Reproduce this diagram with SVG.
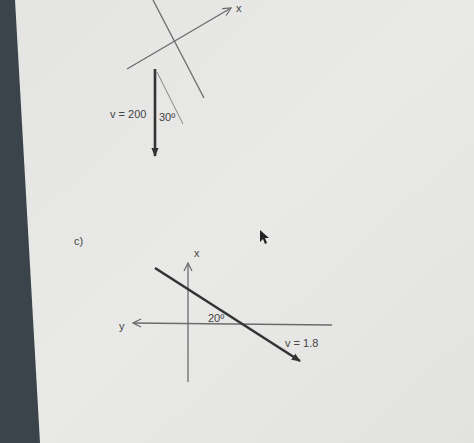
<svg xmlns="http://www.w3.org/2000/svg" width="474" height="443" viewBox="0 0 474 443">
<defs>
<linearGradient id="paper" x1="0" y1="0" x2="1" y2="1">
<stop offset="0" stop-color="#e4e4e3"/>
<stop offset="0.5" stop-color="#e9e9e8"/>
<stop offset="1" stop-color="#e2e2e1"/>
</linearGradient>
<marker id="open" viewBox="0 0 10 10" refX="9" refY="5" markerWidth="10" markerHeight="10" markerUnits="userSpaceOnUse" orient="auto">
<path d="M1,1 L9,5 L1,9" fill="none" stroke="#6b6b6b" stroke-width="1.2"/>
</marker>
<marker id="solid" viewBox="0 0 10 10" refX="9" refY="5" markerWidth="9" markerHeight="9" markerUnits="userSpaceOnUse" orient="auto">
<path d="M0,1 L10,5 L0,9 Z" fill="#333"/>
</marker>
</defs>
<style>
.thin{stroke:#6b6b6b;stroke-width:1.3;fill:none}
.hair{stroke:#7a7a7a;stroke-width:0.9;fill:none}
.thick{stroke:#333;stroke-width:2.6;fill:none}
text{font-family:"Liberation Sans","Open Sans",sans-serif;fill:#444;font-size:11px}
</style>
<rect width="474" height="443" fill="url(#paper)"/>
<polygon points="0,0 15,0 40,443 0,443" fill="#3a444a"/>
<g id="connectors">
<line class="thin" x1="127" y1="69" x2="231" y2="8" marker-end="url(#open)"/>
<line class="thin" x1="153" y1="0" x2="204" y2="98"/>
<line class="thick" x1="155" y1="69" x2="155" y2="156" marker-end="url(#solid)"/>
<line class="hair" x1="157" y1="72" x2="183" y2="124"/>
<line class="thin" x1="188" y1="382" x2="188" y2="263" marker-end="url(#open)"/>
<line class="thin" x1="332" y1="325" x2="133" y2="323" marker-end="url(#open)"/>
<line class="thick" x1="155" y1="268" x2="300" y2="361" marker-end="url(#solid)"/>
</g>
<g id="labels-top">
<text x="236" y="12">x</text>
<text x="110" y="118" font-size="12">v = 200</text>
<text x="159" y="121" font-size="12">30º</text>
</g>
<g id="labels-c">
<text x="74" y="245" font-size="14">c)</text>
<text x="194" y="257" font-size="10">x</text>
<text x="119" y="330" font-size="10">y</text>
<text x="208" y="322">20º</text>
<text x="285" y="347">v = 1.8</text>
</g>
<g id="cursor">
<path d="M260,230 L260,242 L263,239 L265,244 L267,243 L265,238 L269,238 Z" fill="#222"/>
</g>
</svg>
